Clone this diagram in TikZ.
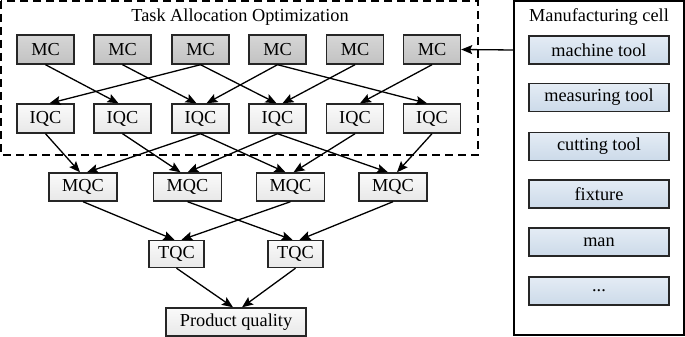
\documentclass[tikz,border=0pt]{standalone}
\usepackage{fontspec}
\setmainfont{Liberation Serif}
\usetikzlibrary{arrows.meta}
\definecolor{mcbot}{HTML}{C2C2C2}
\definecolor{mctop}{HTML}{D6D6D6}
\definecolor{qtop}{HTML}{FAFAFA}
\definecolor{qbot}{HTML}{E8E8E8}
\definecolor{btop}{HTML}{E4ECF5}
\definecolor{bbot}{HTML}{CCDAE9}
\begin{document}
\begin{tikzpicture}[x=1pt,y=-1pt,
  font=\fontsize{18.3}{21}\selectfont,
  box/.style={draw=black!85,line width=1.4pt,inner sep=0pt,anchor=center},
  mcbox/.style={box,minimum width=57pt,minimum height=29pt,top color=mctop,bottom color=mcbot},
  iqcbox/.style={box,minimum width=57pt,minimum height=29pt,top color=qtop,bottom color=qbot},
  mqcbox/.style={box,minimum width=68pt,minimum height=28pt,top color=qtop,bottom color=qbot},
  tqcbox/.style={box,minimum width=55pt,minimum height=27pt,top color=qtop,bottom color=qbot},
  pqbox/.style={box,minimum width=140pt,minimum height=28pt,top color=qtop,bottom color=qbot},
  cellbox/.style={box,minimum width=140pt,minimum height=28pt,top color=btop,bottom color=bbot},
  conn/.style={line width=1.3pt,-{Stealth[length=11pt,width=9pt,inset=2pt]}},
  frame/.style={line width=1.4pt}
]
\useasboundingbox (0,0) rectangle (685,337);
% frames
\draw[frame,dashed,dash pattern=on 8pt off 5pt] (1,1) rectangle (478,155);
\draw[frame] (514,1) rectangle (684,335);
\node (title) at (240,17) {Task Allocation Optimization};
\node (celltitle) at (599,17) {Manufacturing cell};
% MC row
\foreach \i/\x in {1/45.5,2/122.5,3/200.5,4/277.5,5/355,6/432}{
  \node[mcbox] (mc\i) at (\x,49.5) {MC};
  \node[iqcbox] (iqc\i) at (\x,118.5) {IQC};
}
\foreach \i/\x in {1/83,2/187.5,3/290.5,4/393}{
  \node[mqcbox] (mqc\i) at (\x,187) {MQC};
}
\node[tqcbox] (tqc1) at (176.5,254) {TQC};
\node[tqcbox] (tqc2) at (295.5,254) {TQC};
\node[pqbox] (pq) at (236,322) {Product quality};
% cell items
\node[cellbox] (c1) at (599,50) {machine tool};
\node[cellbox] (c2) at (599,97.5) {measuring tool};
\node[cellbox] (c3) at (599,146.5) {cutting tool};
\node[cellbox] (c4) at (599,194) {fixture};
\node[cellbox] (c5) at (599,242) {man};
\node[cellbox] (c6) at (599,291) {...};
\coordinate (cellin) at (514,50);
\draw[conn] (cellin) -- (mc6.east);
% MC -> IQC
\draw[conn] (mc1.south) -- ([xshift=-4pt]iqc2.north);
\draw[conn] (mc2.south) -- ([xshift=-4pt]iqc3.north);
\draw[conn] (mc3.south) -- ([xshift=4pt]iqc1.north);
\draw[conn] (mc3.south) -- ([xshift=-1pt]iqc4.north);
\draw[conn] (mc4.south) -- ([xshift=6pt]iqc3.north);
\draw[conn] (mc4.south) -- ([xshift=-5pt]iqc6.north);
\draw[conn] (mc5.south) -- ([xshift=5pt]iqc4.north);
\draw[conn] (mc6.south) -- ([xshift=5pt]iqc5.north);
% IQC -> MQC
\draw[conn] (iqc1.south) -- ([xshift=-3pt]mqc1.north);
\draw[conn] (iqc3.south) -- ([xshift=4pt]mqc1.north);
\draw[conn] (iqc2.south) -- ([xshift=-7pt]mqc2.north);
\draw[conn] (iqc4.south) -- ([xshift=0pt]mqc2.north);
\draw[conn] (iqc3.south) -- ([xshift=-5pt]mqc3.north);
\draw[conn] (iqc5.south) -- ([xshift=3pt]mqc3.north);
\draw[conn] (iqc4.south) -- ([xshift=-5pt]mqc4.north);
\draw[conn] (iqc6.south) -- ([xshift=4pt]mqc4.north);
% MQC -> TQC
\draw[conn] (mqc1.south) -- ([xshift=-2pt]tqc1.north);
\draw[conn] (mqc3.south) -- ([xshift=5pt]tqc1.north);
\draw[conn] (mqc2.south) -- ([xshift=-3pt]tqc2.north);
\draw[conn] (mqc4.south) -- ([xshift=4pt]tqc2.north);
% TQC -> PQ
\draw[conn] (tqc1.south) -- ([xshift=-3pt]pq.north);
\draw[conn] (tqc2.south) -- ([xshift=6pt]pq.north);
\end{tikzpicture}
\end{document}
